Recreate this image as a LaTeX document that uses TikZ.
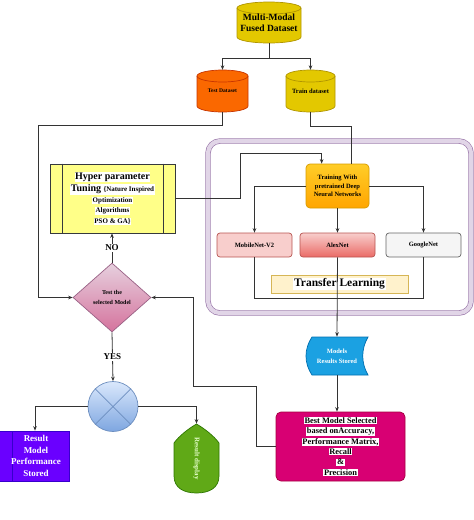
\documentclass[tikz,border=0pt]{standalone}
\usepackage{fontspec}
\setmainfont{Liberation Serif}
\usetikzlibrary{calc,arrows.meta,positioning,shapes.geometric}
\definecolor{lineC}{HTML}{333333}
\definecolor{fusedY}{HTML}{E3C800}
\definecolor{fusedYd}{HTML}{B09500}
\definecolor{testO}{HTML}{FA6800}
\definecolor{testOd}{HTML}{C73500}
\definecolor{hypY}{HTML}{FFFF88}
\definecolor{hypYd}{HTML}{36393D}
\definecolor{trainT}{HTML}{FFCD28}
\definecolor{trainB}{HTML}{FFA500}
\definecolor{trainD}{HTML}{D79B00}
\definecolor{redL}{HTML}{F8CECC}
\definecolor{redM}{HTML}{EA6B66}
\definecolor{redD}{HTML}{B85450}
\definecolor{grayL}{HTML}{F5F5F5}
\definecolor{grayD}{HTML}{666666}
\definecolor{tlY}{HTML}{FFF2CC}
\definecolor{tlYd}{HTML}{D6B656}
\definecolor{frameL}{HTML}{E1D5E7}
\definecolor{frameD}{HTML}{9673A6}
\definecolor{storeB}{HTML}{1BA1E2}
\definecolor{storeBd}{HTML}{006EAF}
\definecolor{bestM}{HTML}{D80073}
\definecolor{bestMd}{HTML}{A50040}
\definecolor{diaT}{HTML}{E6D0DE}
\definecolor{diaB}{HTML}{D5739D}
\definecolor{diaD}{HTML}{996185}
\definecolor{sumT}{HTML}{DAE8FC}
\definecolor{sumB}{HTML}{7EA6E0}
\definecolor{sumD}{HTML}{6C8EBF}
\definecolor{resP}{HTML}{6A00FF}
\definecolor{resPd}{HTML}{3700CC}
\definecolor{dispG}{HTML}{60A917}
\definecolor{dispGd}{HTML}{2D7600}
\definecolor{dispT}{HTML}{E6FFCC}
\newcommand{\fsz}[2]{\fontsize{#1}{#2}\selectfont\bfseries}
\newcommand{\hlw}[1]{{\setlength{\fboxsep}{0.6pt}\colorbox{white}{#1}}}
% #1 name, #2 x centre, #3 top, #4 width, #5 height, #6 colours and font, #7 text
\newcommand{\DataCyl}[7]{%
 \filldraw[#6, line width=0.7pt] ({#2-#4/2},{#3+6}) -- ({#2-#4/2},{#3+#5-6})
   arc[start angle=180, end angle=0, x radius=#4/2, y radius=6] -- ({#2+#4/2},{#3+6})
   arc[start angle=0, end angle=-180, x radius=#4/2, y radius=6] -- cycle;
 \draw[#6, fill=none, line width=0.7pt] ({#2-#4/2},{#3+6})
   arc[start angle=180, end angle=0, x radius=#4/2, y radius=6];
 \node[#6, draw=none, fill=none, inner sep=0pt, minimum width=#4, minimum height=#5, align=center]
   (#1) at (#2,{#3+#5/2}) {#7};
}

\begin{document}
\begin{tikzpicture}[x=1pt,y=-1pt,
	line/.style={draw=lineC, line width=0.8pt},
	arr/.style={line, -{Stealth[length=4.5pt,width=3.6pt]}},
	box/.style={rectangle, line width=0.7pt, inner sep=0pt, align=center},
	netbox/.style={box, rounded corners=3pt, minimum width=75pt, minimum height=24pt, font=\fsz{6.5}{8}},
	lbl/.style={fill=white, inner sep=1pt, font=\fsz{9}{10}}
	]
	\useasboundingbox (0,0) rectangle (474,520);

	%% Transfer learning frame (drawn first)
	\draw[draw=frameD, line width=0.6pt, double=frameL, double distance=4.2pt, rounded corners=12pt]
		(208,141) rectangle (471,313);

	%% Datasets
	\DataCyl{fused}{269}{2}{64}{41}{fill=fusedY, draw=fusedYd, font=\fsz{9.5}{11.3}}{Multi-Modal\\Fused Dataset}
	\DataCyl{test}{222.5}{70}{51}{42}{fill=testO, draw=testOd, font=\fsz{5.6}{7}}{Test Dataset}
	\DataCyl{train}{310.5}{70}{49}{42}{fill=fusedY, draw=fusedYd, font=\fsz{6.5}{8}}{Train dataset}

	%% Hyper parameter tuning (predefined process)
	\node[box, draw=hypYd, fill=hypY, minimum width=125pt, minimum height=69pt, font=\fsz{7}{10.5}]
		(hyper) at (112.5,198.5)
		{\hlw{\fsz{10}{12}Hyper parameter}\\[2pt]
		 \hlw{\fsz{10}{12}Tuning {\fsz{7}{12}\{Nature Inspired}}\\
		 \hlw{Optimization}\\ \hlw{Algorithms}\\ \hlw{PSO \& GA\}}};
	\draw[draw=hypYd, line width=0.7pt] ($(hyper.north west)+(13,0)$) -- ($(hyper.south west)+(13,0)$);
	\draw[draw=hypYd, line width=0.7pt] ($(hyper.north east)+(-12,0)$) -- ($(hyper.south east)+(-12,0)$);

	%% Training and networks
	\node[box, draw=trainD, top color=trainT, bottom color=trainB, rounded corners=4pt,
		minimum width=63pt, minimum height=44pt, font=\fsz{6.5}{8.6}]
		(training) at (337.5,186) {Training With\\pretrained Deep\\Neural Networks};
	\node[netbox, draw=redD, fill=redL] (mobile) at (254.5,245) {MobileNet-V2};
	\node[netbox, draw=redD, top color=redL, bottom color=redM] (alex) at (337.5,245) {AlexNet};
	\node[netbox, draw=grayD, fill=grayL] (google) at (423.5,245) {GoogleNet};
	\node[box, draw=tlYd, fill=tlY, minimum width=137pt, minimum height=18pt, font=\fsz{11.5}{12}]
		(transfer) at (339.5,284) {\hlw{Transfer Learning}};

	%% Models results stored (stored data)
	\fill[storeB, draw=storeBd, line width=0.7pt] (312,337) -- (368,337)
		.. controls (361,349) and (361,363) .. (368,375) -- (312,375)
		.. controls (304,363) and (304,349) .. (312,337) -- cycle;
	\node[box, minimum width=56pt, minimum height=38pt, text=white, font=\fsz{6.5}{10}]
		(models) at (337,356) {Models\\Results Stored};

	%% Best model
	\node[box, draw=bestMd, fill=bestM, rounded corners=5pt, minimum width=129pt, minimum height=69pt,
		font=\fsz{8.4}{10.4}] (best) at (340.5,446.5)
		{\hlw{Best Model Selected}\\ \hlw{based onAccuracy,}\\ \hlw{Performance Matrix,}\\
		 \hlw{Recall}\\ \hlw{\&}\\ \hlw{Precision}};

	%% Test decision and junction
	\node[diamond, draw=diaD, top color=diaT, bottom color=diaB, line width=0.7pt, inner sep=0pt,
		minimum width=78pt, minimum height=69pt, align=center, font=\fsz{6}{9.5}]
		(diam) at (112,297.5) {Test the\\selected Model};
	\node[circle, draw=sumD, top color=sumT, bottom color=sumB, line width=0.7pt,
		minimum size=50pt, inner sep=0pt] (sum) at (113,406.5) {};
	\draw[draw=sumD, line width=0.7pt] (sum.north west) -- (sum.south east);
	\draw[draw=sumD, line width=0.7pt] (sum.north east) -- (sum.south west);

	%% Outputs
	\filldraw[fill=resP, draw=resPd, line width=0.7pt] (-10,431) rectangle (69,481);
	\draw[draw=resPd, line width=0.7pt] (12,431) -- (12,481);
	\node[box, minimum width=69pt, minimum height=50pt, text=white,
		font=\fsz{9}{11.7}] (result) at (36,456) {Result\\Model\\Performance\\Stored};
	\fill[dispG, draw=dispGd, line width=0.7pt] (196.5,424)
		.. controls (205,429) and (214,436) .. (219,443) -- (219,476)
		.. controls (219,488) and (209,493) .. (196.5,493)
		.. controls (184,493) and (174,488) .. (174,476) -- (174,443)
		.. controls (179,436) and (188,429) .. (196.5,424) -- cycle;
	\node[box, minimum width=45pt, minimum height=69pt] (disp) at (196.5,458.5)
		{\rotatebox{-90}{\fsz{7}{8}\color{dispT}Result display}};

	%% Bend points
	\coordinate (testbend) at (38,125);
	\coordinate (trainbend) at (351,126);
	\coordinate (hypbend) at (240,153);
	\coordinate (bestbend) at (256,386);
	\coordinate (backbend) at (193,297.5);

	%% Connectors
	\draw[arr] (fused.south) -- ++(0,15) -| (test.north);
	\draw[arr] (fused.south) -- ++(0,15) -| (train.north);
	\draw[arr] (test.south) |- (testbend) |- (diam.west);
	\draw[line] (train.south) |- (trainbend) -- (trainbend |- training.north);
	\draw[arr] (hyper.east) -| (hypbend) -| ($(training.north west)+(16,0)$);
	\draw[arr] (training.west) -| (mobile.north);
	\draw[arr] (training.east) -| (google.north);
	\draw[arr] (training.south) -- (alex.north);
	\draw[line] (mobile.south) -- ++(0,41) -| (google.south);
	\draw[arr] (alex.south) -- (models.north);
	\draw[arr] (models.south) -- (models.south |- best.north);
	\draw[arr] (best.west) -| (bestbend) -| (backbend) -- (diam.east);
	\draw[arr] (diam.north) -- node[lbl] {NO} (diam.north |- hyper.south);
	\draw[arr] (diam.south) -- node[lbl] {YES} (sum.north);
	\draw[arr] (sum.west) -| ($(result.north)+(-1,0)$);
	\draw[arr] (sum.east) -| (disp.north);
\end{tikzpicture}
\end{document}
